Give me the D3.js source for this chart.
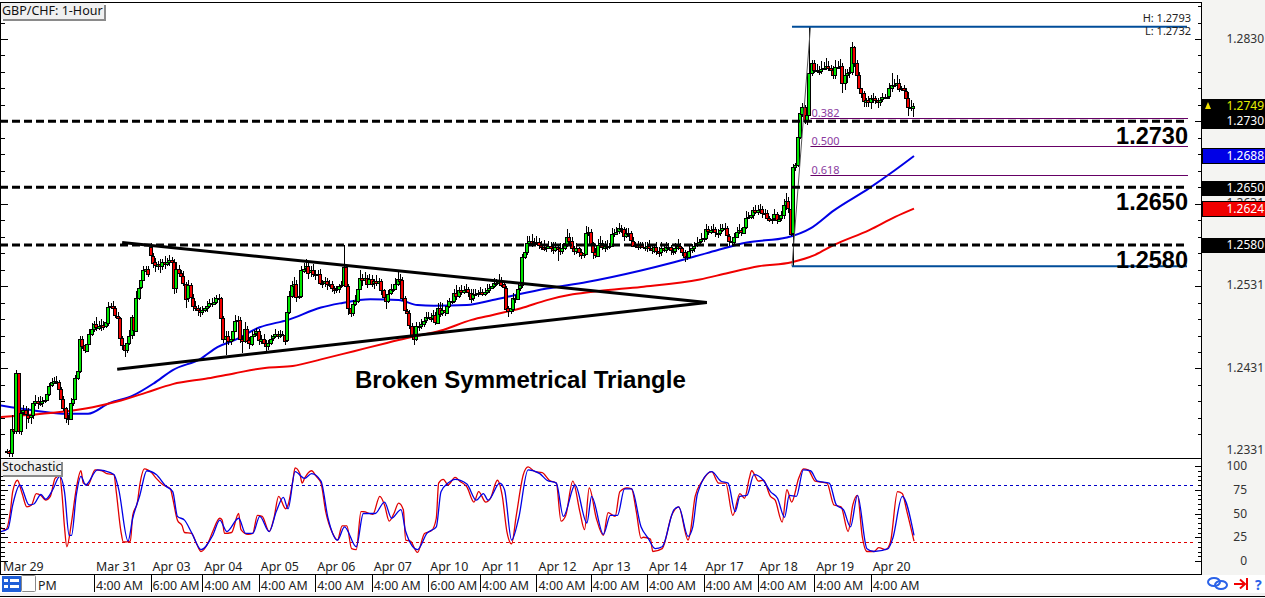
<!DOCTYPE html>
<html>
<head>
<meta charset="utf-8">
<title>GBP/CHF 1-Hour</title>
<script src="https://cdn.jsdelivr.net/npm/d3@7/dist/d3.min.js"></script>
<style>
  html, body { margin: 0; padding: 0; background: #fff; overflow: hidden; }
  svg { display: block; }
  text { font-family: "Noto Sans", sans-serif; }
</style>
</head>
<body>
<svg id="chart" width="1265" height="598"></svg>
<script>
// Hourly closes in points (1 point = 0.0001), one row per 20 bars.
const closes = [
12330,12328,12357,12354,12424,12354,12376,12379,12374,12370,12373,12388,12390,12387,12388,12391,12392,12399,12409,12413,
12415,12414,12405,12393,12382,12370,12369,12388,12393,12419,12427,12466,12458,12452,12460,12472,12478,12484,12480,12482,
12483,12481,12486,12505,12506,12503,12494,12491,12467,12458,12452,12461,12470,12492,12476,12516,12528,12537,12549,12551,
12545,12567,12559,12555,12557,12554,12559,12557,12559,12562,12559,12528,12551,12546,12542,12533,12515,12531,12516,12506,
12504,12501,12498,12501,12503,12506,12510,12509,12511,12516,12515,12491,12466,12470,12464,12466,12476,12488,12489,12466,
12464,12478,12464,12460,12470,12472,12475,12464,12466,12461,12457,12461,12466,12469,12472,12470,12472,12471,12464,12498,
12518,12531,12533,12517,12518,12549,12551,12554,12546,12549,12544,12545,12545,12534,12533,12536,12532,12533,12528,12525,
12526,12530,12531,12553,12530,12503,12497,12508,12512,12527,12540,12537,12540,12533,12539,12533,12536,12533,12536,12525,
12517,12512,12521,12526,12527,12533,12539,12537,12515,12500,12497,12482,12470,12466,12482,12481,12484,12488,12492,12493,
12491,12495,12486,12504,12497,12501,12498,12506,12512,12512,12522,12518,12525,12523,12525,12526,12522,12515,12520,12521,
12522,12523,12521,12523,12525,12528,12530,12534,12534,12538,12532,12528,12503,12499,12503,12516,12515,12527,12531,12565,
12571,12582,12585,12582,12583,12584,12580,12578,12576,12577,12579,12576,12574,12578,12576,12572,12576,12582,12590,12585,
12576,12572,12576,12571,12567,12570,12595,12596,12582,12571,12567,12580,12582,12577,12579,12578,12579,12593,12594,12596,
12600,12599,12591,12595,12594,12585,12579,12580,12578,12580,12578,12577,12579,12576,12573,12578,12573,12571,12576,12574,
12578,12577,12573,12572,12576,12579,12576,12571,12565,12566,12573,12576,12579,12582,12584,12587,12588,12599,12596,12598,
12599,12595,12594,12598,12600,12600,12591,12585,12584,12590,12596,12598,12595,12602,12613,12614,12616,12622,12619,12622,
12623,12618,12619,12613,12611,12612,12617,12610,12612,12616,12628,12633,12624,12594,12674,12677,12711,12740,12748,12731,
12738,12789,12801,12792,12791,12791,12794,12795,12797,12795,12792,12786,12796,12796,12797,12776,12786,12789,12790,12820,
12801,12786,12770,12764,12754,12756,12753,12758,12758,12756,12753,12756,12759,12760,12760,12770,12774,12774,12776,12769,
12770,12767,12758,12747,12747,12749];

// Upper and lower shadows in points, same bar order as the closes.
const wickUp = [
2,1,16,6,4,1,3,7,5,8,6,3,8,5,9,4,6,8,3,6,
5,6,2,2,3,1,4,6,4,3,5,4,3,2,5,6,7,4,8,6,
7,5,9,6,4,6,3,4,2,3,3,5,7,3,6,8,4,7,5,3,
3,5,3,5,3,6,4,8,5,6,3,4,8,5,3,6,2,6,3,4,
6,3,4,5,3,6,4,5,6,3,4,2,3,6,5,8,3,7,5,3,
4,9,3,4,6,5,4,3,5,6,3,4,5,3,6,4,5,3,4,7,
6,5,8,4,6,5,7,9,4,6,8,4,5,6,3,5,4,5,3,2,
4,3,5,27,3,3,4,5,7,6,9,5,7,4,6,5,3,7,4,3,
2,3,4,6,5,7,8,6,4,3,2,4,3,1,4,5,6,4,7,5,
4,6,3,5,7,8,4,7,3,6,5,9,4,6,5,7,3,4,6,5,
3,6,4,5,7,4,3,6,5,7,3,4,2,3,5,6,3,5,9,4,
7,9,6,8,5,7,4,5,8,3,6,4,7,5,3,6,5,4,9,5,
4,3,6,2,4,5,8,6,3,2,5,7,9,4,6,7,3,8,5,6,
7,4,3,6,5,3,4,3,5,3,4,6,4,7,5,3,6,4,7,3,
5,4,3,2,6,8,3,2,3,4,6,5,4,7,3,8,5,6,4,5,
6,3,4,7,5,6,3,2,4,5,6,7,3,5,8,6,5,4,7,6,
7,4,5,3,2,4,6,3,4,5,8,10,5,3,4,3,3,3,4,2,
3,56,3,4,8,6,9,7,10,6,4,5,8,7,9,4,7,5,6,6,
2,3,4,1,3,2,5,4,6,3,2,4,5,3,4,6,15,8,10,5,
3,4,3,8,9,3];
const wickDown = [
4,6,5,3,4,3,5,3,17,6,8,4,3,6,2,5,3,2,3,2,
2,3,3,2,4,6,8,2,3,1,3,2,4,3,2,1,3,4,5,3,
6,4,2,4,3,2,3,2,6,5,8,3,2,4,6,2,3,2,1,3,
4,3,7,8,6,8,5,6,3,5,4,8,6,5,4,3,12,4,5,6,
4,7,5,3,2,4,3,4,2,3,5,3,5,20,6,5,3,2,4,5,
15,3,4,6,3,2,3,5,4,3,8,4,2,3,2,4,3,2,6,2,
2,3,2,6,3,2,3,4,7,5,3,6,4,3,5,4,7,3,5,4,
3,4,2,2,5,8,5,3,2,3,2,7,3,5,2,4,6,3,4,6,
4,10,3,2,3,2,3,4,3,4,5,4,3,8,3,5,3,4,3,2,
4,2,3,2,5,3,4,2,3,4,2,5,3,4,2,3,5,6,3,2,
4,2,3,3,2,3,2,2,4,2,3,4,5,6,3,4,5,2,3,3,
2,3,3,4,2,3,5,4,3,4,2,4,5,3,16,4,3,2,5,6,
5,4,3,6,4,3,2,4,5,8,3,2,4,3,5,4,3,2,3,2,
3,4,6,3,4,5,2,3,4,3,2,4,5,3,4,3,5,6,4,3,
4,3,5,4,3,2,4,5,6,3,2,3,4,2,3,2,3,2,4,3,
2,5,6,3,2,3,4,6,3,4,2,3,4,2,3,2,3,4,2,3,
3,5,2,4,3,6,3,5,2,3,4,6,5,3,40,4,3,2,5,4,
5,2,4,3,2,5,3,2,3,4,2,4,5,3,2,12,8,10,6,4,
5,3,2,6,6,7,5,8,6,5,7,4,3,2,2,3,4,2,3,3,
2,3,6,11,5,12];

// Bars that opened away from the prior close (weekend gap).
const gapBars = [61];
const gapOpens = [12577];

// Moving averages, sampled along the bars.
const blueBars = [-3,11,25,34,43,53,62,70,82,89,96,107,119,133,141,154,166,174,181,195,206,217,229,246,269,283,297,314,331,341,351,366,377,385];
const blueVals = [12385,12379,12375,12375,12388,12397,12412,12428,12442,12456,12464,12480,12489,12504,12509,12514,12513,12507,12506,12507,12513,12520,12527,12535,12549,12559,12570,12583,12589,12600,12622,12649,12671,12688];
const redBars = [-3,11,22,36,48,59,70,85,96,110,121,133,147,161,171,184,197,206,218,229,240,251,269,294,306,319,333,343,351,366,377,385];
const redVals = [12371,12374,12377,12383,12391,12401,12411,12418,12424,12431,12433,12441,12451,12461,12468,12476,12489,12495,12503,12513,12520,12524,12529,12538,12546,12554,12559,12568,12580,12598,12614,12624];

// Horizontal support and resistance levels.
const levels = [12730, 12650, 12580];
const levelLabels = ["1.2730", "1.2650", "1.2580"];

// Fibonacci retracement span and its ratios.
const fibHigh = 12845, fibLow = 12554;
const fibBarHigh = 341, fibBarLow = 334;
const fibRatios = [0.382, 0.500, 0.618];

// Triangle trendlines: start and shared apex.
const triUpper = {bar: 48.5, price: 12583};
const triLower = {bar: 46.4, price: 12429};
const triApex = {bar: 297, price: 12510};

// Stochastic %K.
const kBars = [-3,-1,1,2,4,6,8,10,12,14,16,18,20,22,23,24,25,27,29,31,32,34,37,40,42,45,46,48,49,52,53,55,56,58,61,63,66,69,70,72,74,75,78,80,82,85,87,90,91,92,95,98,99,102,104,106,108,111,113,115,118,119,121,122,124,125,126,129,131,133,135,138,140,142,144,146,148,150,151,155,158,160,162,164,166,168,169,171,174,177,180,182,183,185,187,190,192,195,198,200,203,205,208,210,212,214,216,219,221,224,227,230,233,235,237,240,243,245,247,250,253,255,258,260,263,265,267,269,270,273,274,278,282,285,289,290,292,295,299,302,305,308,311,313,315,316,319,321,324,326,329,331,333,336,338,340,343,348,351,354,357,359,361,363,365,368,370,373,375,378,380,382,385];
const kVals = [35,33,52,73,85,71,57,59,71,69,64,68,87,90,69,36,15,41,76,95,82,80,96,95,92,91,73,31,20,21,48,62,80,97,93,87,80,76,66,43,37,30,29,19,10,19,31,45,43,29,30,50,33,28,29,48,47,31,45,68,55,59,84,98,92,82,87,95,89,82,52,29,22,37,37,13,12,52,52,49,68,59,42,50,61,54,22,21,9,29,32,45,82,86,80,88,84,78,62,73,62,66,85,69,31,18,48,91,99,94,93,85,82,42,48,84,52,33,77,45,27,51,47,73,77,76,52,24,25,23,10,13,48,57,22,31,68,84,94,82,82,48,71,66,87,95,84,85,68,64,41,75,62,87,97,96,84,82,59,57,31,59,69,26,10,10,14,12,20,73,71,52,21];

// Stochastic %D.
const dBars = [-3,0,2,5,9,11,14,16,19,22,24,26,27,29,31,33,38,41,45,47,51,53,56,59,63,67,70,72,75,78,82,87,90,93,98,101,104,107,111,114,117,119,122,126,129,133,136,140,143,148,151,156,160,163,167,169,174,178,182,184,187,190,195,199,202,204,209,211,214,217,221,226,229,233,236,241,246,248,253,256,259,262,265,269,272,275,278,283,285,289,291,293,299,303,306,309,311,314,317,321,324,327,330,332,335,338,341,344,349,352,355,358,361,365,368,374,376,380,385];
const dVals = [31,34,59,80,59,60,70,65,75,89,73,27,27,69,89,80,96,95,91,76,21,45,69,95,91,79,73,47,43,30,12,27,43,31,45,29,29,47,31,52,67,55,94,87,92,84,45,22,36,15,50,50,62,45,54,31,12,29,36,73,82,86,81,64,71,64,82,75,22,45,96,92,85,82,47,80,40,68,28,48,48,76,76,36,24,13,15,54,57,26,36,71,94,84,82,52,68,69,91,85,73,66,46,69,68,96,95,84,82,59,54,36,69,13,10,13,24,68,27];

// Axis text.
const priceLabels = ["1.2830", "1.2730", "1.2631", "1.2531", "1.2431", "1.2331"];
const stochLabels = [100, 75, 50, 25, 0];
const sessionBars = [37,61,83,107,131,155,179,201,225,248,272,296,319,343,367];
const sessionDates = ["Mar 31","Apr 03","Apr 04","Apr 05","Apr 06","Apr 07","Apr 10","Apr 11","Apr 12","Apr 13","Apr 14","Apr 17","Apr 18","Apr 19","Apr 20"];
const sessionTimes = ["4:00 AM","6:00 AM","4:00 AM","4:00 AM","4:00 AM","4:00 AM","6:00 AM","4:00 AM","4:00 AM","4:00 AM","4:00 AM","4:00 AM","4:00 AM","4:00 AM","4:00 AM"];

const svg = d3.select("#chart");
const plotRight = 1201, mainTop = 2, mainBottom = 458, stochBottom = 574;

const x = d3.scaleLinear().domain([0, 385]).range([8, 914]);
const y = d3.scaleLinear().domain([12830, 12331]).range([39, 450]);
const yStoch = d3.scaleLinear().domain([0, 100]).range([561, 466]);

// Window backdrop: price strip, footer and frames.
svg.append("rect").attr("x", plotRight + 1).attr("y", 0).attr("width", 63).attr("height", 575).attr("fill", "#f4f4f2");
svg.append("rect").attr("x", 0).attr("y", 593).attr("width", 1265).attr("height", 3).attr("fill", "#f0f0f0");
svg.append("rect").attr("x", 0).attr("y", 596).attr("width", 1265).attr("height", 1).attr("fill", "#000");

const defs = svg.append("defs");
defs.append("clipPath").attr("id", "mainClip").append("rect").attr("x", 1).attr("y", mainTop).attr("width", plotRight - 1).attr("height", mainBottom - mainTop);

const main = svg.append("g").attr("clip-path", "url(#mainClip)");

// Moving averages sit underneath the candles.
const maLine = (bars, vals) => d3.line().curve(d3.curveMonotoneX).x((d, i) => x(bars[i])).y(d => y(d))(vals);
main.append("path").attr("d", maLine(blueBars, blueVals)).attr("fill", "none").attr("stroke", "#0000e6").attr("stroke-width", 2);
main.append("path").attr("d", maLine(redBars, redVals)).attr("fill", "none").attr("stroke", "#f00000").attr("stroke-width", 2);

// Candles: open follows the previous close unless the bar gapped.
const candles = closes.map((c, i) => {
  const gap = gapBars.indexOf(i);
  const o = gap >= 0 ? gapOpens[gap] : (i ? closes[i - 1] : c);
  return {
    i, o, c,
    h: Math.max(o, c) + (wickUp[i] || 0),
    l: Math.min(o, c) - (wickDown[i] || 0)
  };
});
const candle = main.append("g").attr("shape-rendering", "crispEdges")
  .selectAll("g").data(candles).join("g");
candle.append("line")
  .attr("x1", d => Math.round(x(d.i)) - 0.5).attr("x2", d => Math.round(x(d.i)) - 0.5)
  .attr("y1", d => y(d.h)).attr("y2", d => y(d.l))
  .attr("stroke", "#000").attr("stroke-width", 1);
candle.append("rect")
  .attr("x", d => Math.round(x(d.i)) - 2.5)
  .attr("y", d => Math.round(y(Math.max(d.o, d.c))) + 0.5)
  .attr("width", 3)
  .attr("height", d => Math.max(1, Math.round(Math.abs(y(d.o) - y(d.c)))))
  .attr("fill", d => d.c >= d.o ? "#00e600" : "#f00000")
  .attr("stroke", "#000").attr("stroke-width", 1);

// Fibonacci retracement: diagonal, range lines and ratio levels.
main.append("line")
  .attr("x1", x(fibBarLow) - 2).attr("y1", y(fibLow))
  .attr("x2", x(fibBarHigh)).attr("y2", y(fibHigh))
  .attr("stroke", "#555").attr("stroke-width", 1);
[fibHigh, fibLow].forEach(p => {
  main.append("line")
    .attr("x1", x(fibBarLow) - 2).attr("x2", 1187)
    .attr("y1", y(p)).attr("y2", y(p))
    .attr("stroke", "#004c99").attr("stroke-width", 2);
});
fibRatios.forEach(r => {
  const p = fibHigh - (fibHigh - fibLow) * r;
  main.append("line")
    .attr("x1", x(fibBarHigh)).attr("x2", 1188)
    .attr("y1", Math.round(y(p)) + 0.5).attr("y2", Math.round(y(p)) + 0.5)
    .attr("stroke", "#660066").attr("stroke-width", 1);
  main.append("text")
    .attr("x", x(fibBarHigh) + 1).attr("y", y(p) - 1)
    .attr("font-size", 11).attr("fill", "#8a3aa0")
    .text(r.toFixed(3));
});

// Dashed support and resistance levels.
main.selectAll(".level").data(levels).join("line").attr("class", "level")
  .attr("x1", 0).attr("x2", 1185)
  .attr("y1", d => y(d)).attr("y2", d => y(d))
  .attr("stroke", "#000").attr("stroke-width", 3).attr("stroke-dasharray", "8,4");

// Converging trendlines of the triangle.
[triUpper, triLower].forEach(t => {
  main.append("line")
    .attr("x1", x(t.bar)).attr("y1", y(t.price))
    .attr("x2", x(triApex.bar)).attr("y2", y(triApex.price))
    .attr("stroke", "#000").attr("stroke-width", 3);
});

// Annotations.
const noteFont = '"Liberation Sans", Arial, sans-serif';
main.append("text").attr("x", 355).attr("y", 388)
  .attr("font-weight", 700).attr("font-size", 24)
  .attr("fill", "#000").style("font-family", noteFont).text("Broken Symmetrical Triangle");
const levelTextY = [144, 210, 268];
levelLabels.forEach((t, i) => {
  main.append("text").attr("x", 1188).attr("y", levelTextY[i]).attr("text-anchor", "end")
    .style("font-family", noteFont).attr("font-weight", 700).attr("font-size", 23.5)
    .attr("fill", "#000").text(t);
});
main.append("text").attr("x", 1191).attr("y", 22).attr("text-anchor", "end").attr("font-size", 11).attr("fill", "#222").text("H: 1.2793");
main.append("text").attr("x", 1191).attr("y", 35).attr("text-anchor", "end").attr("font-size", 11).attr("fill", "#222").text("L: 1.2732");

// Stochastic guide lines and curves.
const stoch = svg.append("g");
stoch.append("line").attr("x1", 2).attr("x2", 1196).attr("y1", Math.round(yStoch(80)) + 0.5).attr("y2", Math.round(yStoch(80)) + 0.5)
  .attr("stroke", "#0000c8").attr("stroke-dasharray", "3,3");
stoch.append("line").attr("x1", 2).attr("x2", 1196).attr("y1", Math.round(yStoch(20)) + 0.5).attr("y2", Math.round(yStoch(20)) + 0.5)
  .attr("stroke", "#e00000").attr("stroke-dasharray", "3,3");
const stochLine = (bars, vals) => d3.line().curve(d3.curveMonotoneX).x((d, i) => x(bars[i])).y(d => yStoch(d))(vals);
stoch.append("path").attr("d", stochLine(kBars, kVals)).attr("fill", "none").attr("stroke", "#e00000").attr("stroke-width", 1.3);
stoch.append("path").attr("d", stochLine(dBars, dVals)).attr("fill", "none").attr("stroke", "#0000e6").attr("stroke-width", 1.3);

// Pane frames.
const frames = svg.append("g").attr("shape-rendering", "crispEdges");
frames.append("rect").attr("x", 0.5).attr("y", mainTop + 0.5).attr("width", plotRight - 0.5).attr("height", stochBottom - mainTop).attr("fill", "none").attr("stroke", "#000").attr("stroke-width", 1);
frames.append("line").attr("x1", 0).attr("x2", plotRight).attr("y1", mainBottom + 0.5).attr("y2", mainBottom + 0.5).attr("stroke", "#000");

// Ticks on both sides of each pane, through d3 axes.
const priceTicks = d3.range(-24, 3).map(k => 12830 + k * 20).filter(v => v <= 12870 && v >= 12325);
const priceMajor = priceTicks.filter(v => (v - 12830) % 100 === 0);
const styleAxis = g => { g.select(".domain").remove(); g.selectAll("text").remove(); g.selectAll("line").attr("stroke", "#000").attr("shape-rendering", "crispEdges"); };
const addTicks = (scale, minor, major) => {
  frames.append("g").attr("transform", `translate(${plotRight},0)`).call(d3.axisLeft(scale).tickValues(minor).tickSize(3)).call(styleAxis);
  frames.append("g").attr("transform", `translate(${plotRight},0)`).call(d3.axisLeft(scale).tickValues(major).tickSize(6)).call(styleAxis);
  frames.append("g").attr("transform", "translate(1,0)").call(d3.axisRight(scale).tickValues(minor).tickSize(4)).call(styleAxis);
  frames.append("g").attr("transform", "translate(1,0)").call(d3.axisRight(scale).tickValues(major).tickSize(7)).call(styleAxis);
};
addTicks(y, priceTicks, priceMajor);
addTicks(yStoch, d3.range(0, 101, 5), stochLabels);

// Price strip labels, with the live badges stacked over them.
const strip = svg.append("g");
const labelX = 1264;
priceLabels.forEach(t => {
  strip.append("text").attr("x", labelX).attr("y", y(+t * 10000) + 4).attr("text-anchor", "end")
    .attr("font-size", 12).attr("fill", "#333").text(t);
});
stochLabels.forEach(v => {
  strip.append("text").attr("x", 1247).attr("y", yStoch(v) + 4).attr("text-anchor", "end")
    .attr("font-size", 12).attr("fill", "#333").text(v);
});
const lastClose = closes[closes.length - 1];
const badge = (value, bg, fg, cy) => {
  strip.append("rect").attr("x", 1202).attr("y", cy - 7.5).attr("width", 63).attr("height", 15).attr("fill", bg).attr("stroke", "#000").attr("stroke-width", bg === "#000" ? 0 : 1).attr("shape-rendering", "crispEdges");
  strip.append("text").attr("x", labelX).attr("y", cy + 4).attr("text-anchor", "end").attr("font-size", 12).attr("fill", fg).text((value / 10000).toFixed(4));
};
badge(lastClose, "#000", "#e6f000", 106);
badge(levels[0], "#000", "#fff", 121);
badge(blueVals[blueVals.length - 1], "#0000e6", "#fff", 156);
badge(levels[1], "#000", "#fff", 188);
badge(redVals[redVals.length - 1], "#f00000", "#fff", 209);
badge(levels[2], "#000", "#fff", 245);
strip.append("path").attr("d", "M1205,109 L1211,109 L1208,102 Z").attr("fill", "#f0e000");

// Date labels inside the lower pane and time labels in the footer.
const dates = svg.append("g").attr("font-size", 12.4).attr("fill", "#222");
dates.append("text").attr("x", 3).attr("y", 571).text("Mar 29");
sessionBars.forEach((b, i) => {
  dates.append("text").attr("x", x(b) + 1).attr("y", 571).text(sessionDates[i]);
  dates.append("text").attr("x", x(b) + 1).attr("y", 590).text(sessionTimes[i]);
  dates.append("line").attr("x1", Math.round(x(b)) - 0.5).attr("x2", Math.round(x(b)) - 0.5).attr("y1", 575).attr("y2", 592)
    .attr("stroke", "#000").attr("shape-rendering", "crispEdges");
});
dates.append("text").attr("x", 38).attr("y", 590).text("PM");

// Footer buttons.
const btn = svg.append("g");
btn.append("rect").attr("x", 2).attr("y", 576).attr("width", 19).attr("height", 16).attr("fill", "#1f5fd8");
[579, 585].forEach(v => {
  btn.append("rect").attr("x", 4).attr("y", v).attr("width", 4).attr("height", 3).attr("fill", "#fff");
  btn.append("rect").attr("x", 10).attr("y", v).attr("width", 9).attr("height", 3).attr("fill", "#fff");
});
btn.append("rect").attr("x", 21.5).attr("y", 575.5).attr("width", 14).attr("height", 16).attr("fill", "#fff").attr("stroke", "#888").attr("rx", 1);
btn.append("ellipse").attr("cx", 1214).attr("cy", 582).attr("rx", 6).attr("ry", 4).attr("fill", "none").attr("stroke", "#2a62e8").attr("stroke-width", 2);
btn.append("ellipse").attr("cx", 1221).attr("cy", 585).attr("rx", 6).attr("ry", 4).attr("fill", "none").attr("stroke", "#2a62e8").attr("stroke-width", 2);
btn.append("path").attr("d", "M1234,584 H1245 M1240,579.5 L1245,584 L1240,588.5 M1247,578 V590").attr("fill", "none").attr("stroke", "#f00000").attr("stroke-width", 2);
btn.append("text").attr("x", 1255).attr("y", 590).attr("font-size", 14).attr("font-weight", 700).attr("fill", "#2a62e8").text("?");

// Pane captions.
const caption = (label, bx, by, w, h) => {
  const g = svg.append("g").attr("shape-rendering", "crispEdges");
  g.append("rect").attr("x", bx + 2).attr("y", by + 2).attr("width", w).attr("height", h).attr("fill", "#8a8a8a");
  g.append("rect").attr("x", bx).attr("y", by).attr("width", w).attr("height", h).attr("fill", "#f0f0f0");
  svg.append("text").attr("x", bx + 1).attr("y", by + h - 4).attr("font-size", 12.5).attr("fill", "#111").text(label);
};
caption("GBP/CHF: 1-Hour", 1, 3, 103, 16);
caption("Stochastic", 1, 460, 60, 15);
</script>
</body>
</html>
